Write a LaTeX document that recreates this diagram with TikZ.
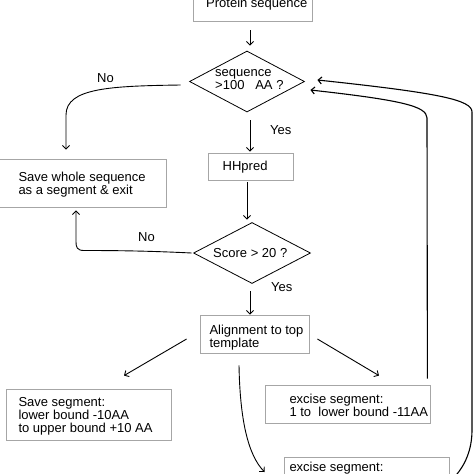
\documentclass[tikz,border=0pt]{standalone}
\usepackage{fontspec}
\setmainfont{Liberation Sans}
\usetikzlibrary{arrows.meta,shapes.geometric,calc}
\begin{document}
\begin{tikzpicture}[x=1pt,y=-1pt,
  font=\fontsize{13}{13}\selectfont,
  box/.style={draw=black!35, line width=0.8pt, inner sep=0pt},
  dia/.style={diamond, draw=black, line width=0.8pt, inner sep=0pt},
  txt/.style={inner sep=0pt, align=left, anchor=base west, text=black},
  arr/.style={draw=black, line width=0.9pt, -{Straight Barb[length=3.5pt,width=7pt]}},
  ret/.style={draw=black, line width=1.1pt, -{Straight Barb[length=3.5pt,width=7pt]}}]
\useasboundingbox (0,0) rectangle (474,474);
\begin{scope}
\clip (0,0) rectangle (474,474);
% boxes and decisions
\node[box, minimum width=119.5, minimum height=38] (protein) at (252.75,2) {};
\node[dia, minimum width=115, minimum height=61] (d1) at (247,81.5) {};
\node[box, minimum width=85, minimum height=27] (hh) at (250.5,166.5) {};
\node[box, minimum width=167, minimum height=48] (save1) at (82.5,183) {};
\node[dia, minimum width=117, minimum height=61] (d2) at (252,253) {};
\node[box, minimum width=109, minimum height=38] (align) at (254.5,334) {};
\node[box, minimum width=165, minimum height=50.5] (save2) at (88.5,414.75) {};
\node[box, minimum width=165, minimum height=38] (ex1) at (347.5,404) {};
\node[box, minimum width=165, minimum height=48] (ex2) at (366.5,481) {};
% texts (base = baseline of the last line)
\node[txt] (proteinT) at (206,7.5) {Protein sequence};
\node[txt] (d1T) at (215,89.5) {sequence\\>100\ \ \ AA ?};
\node[txt] (hhT) at (222.5,170) {HHpred};
\node[txt] (save1T) at (18.3,194) {Save whole sequence\\as a segment \& exit};
\node[txt] (d2T) at (213,257) {Score > 20 ?};
\node[txt] (alignT) at (209.3,347.5) {Alignment to top\\template};
\node[txt] (save2T) at (18.3,432) {Save segment:\\lower bound -10AA\\to upper bound +10 AA};
\node[txt] (ex1T) at (289.3,416) {excise segment:\\1 to\ \ lower bound -11AA};
\node[txt] (ex2T) at (289.3,471.5) {excise segment:};
% labels
\node[txt] (no1) at (97,82) {No};
\node[txt] (yes1) at (270,134) {Yes};
\node[txt] (no2) at (138,241) {No};
\node[txt] (yes2) at (271,291) {Yes};
% connectors
\draw[arr] ($(protein.south)+(-2.75,9)$) -- ($(d1.north)+(3,-5)$);
\draw[arr] ($(d1.south)+(3,8)$) -- ($(hh.north)+(-0.5,-1)$);
\draw[arr] ($(hh.south)+(-3.5,2)$) -- ($(d2.north)+(-5,-2.5)$);
\draw[arr] ($(d2.south)+(-2,7.5)$) -- ($(align.north)+(-4.5,0)$);
\draw[arr] ($(d1.west)+(-8.5,3.5)$) .. controls (110,86) and (66,88) .. (66,115) -- ($(save1.north)+(-16.5,-9)$);
\draw[arr] ($(d2.west)+(-1.5,0)$) .. controls (150,251) and (120,250.5) .. (84,250.5) .. controls (77,250.5) and (76,247) .. (76,242) -- ($(save1.south)+(-6.5,3)$);
\draw[arr] ($(align.west)+(-13,5)$) -- ($(save2.north)+(35.5,-13.5)$);
\draw[arr] ($(align.east)+(8,5)$) -- ($(ex1.north)+(31.5,-9)$);
\draw[arr] ($(align.south)+(-15.5,12)$) .. controls (240,420) and (248,455) .. ($(ex2.west)+(-19,-9)$);
\draw[ret] ($(ex1.north east)+(-3,-6)$) -- (427,118) .. controls (427,106) and (400,100) .. ($(d1.east)+(5.5,8.5)$);
\draw[ret] ($(ex2.east)+(6,-5)$) .. controls (465,465) and (472,450) .. (472,430) -- (472,112) .. controls (472,100) and (440,93) .. ($(d1.east)+(12.5,-1.5)$);
\end{scope}
\end{tikzpicture}
\end{document}
